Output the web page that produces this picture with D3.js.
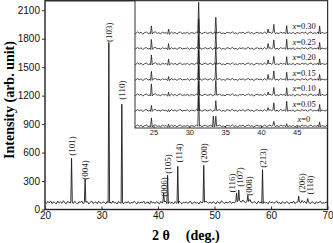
<!DOCTYPE html>
<html>
<head>
<meta charset="utf-8">
<script src="https://cdn.jsdelivr.net/npm/d3@7"></script>
<style>
  body { margin: 0; background: #fff; }
  svg { display: block; }
</style>
</head>
<body>
<div id="chart"></div>
<script>
// main pattern (x = 0), counts
const twoThetaTicks = [20, 30, 40, 50, 60, 70];
const intensityTicks = [0, 300, 600, 900, 1200, 1500, 1800, 2100];
const baselineStart = 20;
const baselineStep = 0.25;
const baselineCounts = [
  78, 64, 85, 70, 90, 62, 81, 73, 58, 88, 69, 80, 66, 92, 71, 60, 84, 75, 67, 79,
  63, 86, 72, 57, 82, 74, 90, 61, 77, 68, 83, 59, 76, 88, 65, 73, 80, 62, 87, 70,
  66, 81, 74, 60, 85, 71, 78, 64, 89, 69, 75, 58, 83, 72, 67, 91, 63, 79, 70, 84,
  61, 76, 68, 87, 73, 59, 82, 66, 78, 71, 86, 62, 74, 80, 57, 88, 69, 77, 64, 83,
  72, 60, 85, 68, 79, 90, 74, 63, 81, 67, 76, 58, 84, 70, 65, 89, 73, 61, 78, 69,
  82, 64, 75, 87, 60, 71, 80, 66, 73, 58, 85, 69, 77, 62, 88, 74, 67, 79, 63, 83,
  70, 59, 84, 72, 65, 90, 76, 61, 80, 68, 74, 86, 63, 78, 71, 57, 82, 95, 88, 76,
  100, 82, 72, 96, 85, 105, 78, 69, 84, 73, 61, 87, 70, 79, 64, 83, 68, 75, 59, 86,
  71, 80, 63, 77, 89, 66, 74, 58, 83, 70, 65, 85, 72, 61, 78, 69, 88, 62, 76, 92,
  80, 67, 96, 74, 85, 64, 79, 71, 62, 84, 73, 58, 81, 69, 76, 87, 63, 72, 66, 78,
  74
];
const peakPositions = [24.7, 27.1, 31.3, 33.6, 41.0, 41.7, 43.5, 48.1, 53.9, 54.3, 55.9, 58.5, 64.9, 66.5];
const peakHeights = [540, 320, 1760, 1110, 175, 360, 455, 465, 175, 205, 150, 420, 140, 115];
const peakLabels = ["(101)", "(004)", "(103)", "(110)", "(006)", "(105)", "(114)", "(200)", "(116)", "(107)", "(008)", "(213)", "(206)", "(118)"];
const labelPositions = [24.7, 27.1, 31.3, 33.6, 41.0, 41.7, 43.7, 48.1, 53.1, 54.5, 56.1, 58.6, 65.5, 66.9];
const labelLevels = [668, 416, 1868, 1258, 237, 479, 595, 595, 279, 342, 247, 542, 279, 258];

// inset: stacked patterns for each x
const insetTicks = [25, 30, 35, 40, 45];
const insetCompositions = ["0", "0.05", "0.10", "0.15", "0.20", "0.25", "0.30"];
const insetNoiseStart = 22.25;
const insetNoise = [
  0.4, -0.6, 1.1, -0.2, 0.7, -1.0, 0.3, 0.9, -0.5, 0.1, -0.9, 0.6, 1.2, -0.3, 0.2, -0.7, 0.8, -0.1, 0.5, -1.1,
  0.0, 0.9, -0.4, 0.6, -0.8, 0.3, 1.0, -0.6, 0.2, -0.2, 0.7, -0.9, 0.4, 0.1, -0.5, 1.1, -0.3, 0.6, -0.7, 0.2,
  0.8, -0.4, 0.0, 1.0, -1.0, 0.5, -0.2, 0.3, 0.9, -0.6, 0.1, -0.8, 0.7, 0.4, -0.3, 1.2, -0.5, 0.2, -0.9, 0.6,
  -0.1, 0.8, -0.7, 0.3, 1.0, -0.4, 0.5, -1.0, 0.2, 0.7, -0.2, 0.4, -0.8, 1.1, -0.5, 0.0, 0.9, -0.3, 0.6, -0.6,
  0.3, -0.9, 1.0, -0.1, 0.5, -0.7, 0.8, 0.2, -0.4, 0.6, -1.1, 0.4, 0.1, -0.5, 0.9, -0.2, 0.7, -0.8, 0.3, 1.0,
  -0.6, 0.2, -0.3, 0.8, -0.9, 0.5, 0.0, -0.4, 0.7, -0.2
];
const insetPeakPositions = [24.7, 27.1, 31.3, 33.35, 33.7, 41.0, 41.8, 43.6, 48.2];
const insetPeakHeights = [
  [9, 3, 30, 11, 10, 0, 4, 3, 5],
  [6, 2, 30, 0, 10, 3, 7, 10, 7],
  [12, 4, 30, 0, 15, 3, 7, 8, 7],
  [9, 4, 30, 0, 17, 5, 8, 8, 6],
  [10, 6, 30, 0, 17, 4, 7, 8, 6],
  [10, 6, 30, 0, 17, 5, 8, 10, 7],
  [8, 5, 31, 0, 16, 4, 8, 8, 8]
];
const insetOffsetStep = 15.5;

const width = 333, height = 243;
const plot = { left: 45, right: 327.5, top: 0.75, bottom: 209.5 };
const inset = { left: 135, right: 327.5, top: 0.75, bottom: 128 };
const serif = "'Liberation Serif', 'Times New Roman', serif";
const sans = "'Liberation Sans', Arial, sans-serif";

const svg = d3.select("#chart").append("svg")
  .attr("width", width)
  .attr("height", height);

const x = d3.scaleLinear().domain([20, 70]).range([plot.left, plot.right]);
const y = d3.scaleLinear().domain([0, 2200]).range([plot.bottom, plot.top]);

// build a profile: noisy baseline plus narrow triangular peaks
function buildProfile(start, step, base, positions, heights, halfWidth, offset) {
  const points = [];
  base.forEach((v, i) => {
    const t = start + i * step;
    const nearPeak = positions.some((p, j) => heights[j] > 0 && Math.abs(t - p) < halfWidth + 0.03);
    if (!nearPeak) points.push([t, v + offset]);
  });
  positions.forEach((p, j) => {
    if (heights[j] <= 0) return;
    const idx = Math.max(0, Math.min(base.length - 1, Math.round((p - start) / step)));
    const b = base[idx] + offset;
    points.push([p - halfWidth, b]);
    points.push([p, (offset === 0 && heights[j] > 60 ? heights[j] : b + heights[j])]);
    points.push([p + halfWidth, b]);
  });
  return points.sort((a, b) => a[0] - b[0]);
}

const mainProfile = buildProfile(baselineStart, baselineStep, baselineCounts, peakPositions, peakHeights, 0.13, 0);

svg.append("path")
  .datum(mainProfile)
  .attr("fill", "none")
  .attr("stroke", "#1a1a1a")
  .attr("stroke-width", 0.9)
  .attr("d", d3.line().x(d => x(d[0])).y(d => y(d[1])));

// hkl labels
svg.append("g")
  .selectAll("text")
  .data(peakLabels)
  .enter()
  .append("text")
  .attr("transform", (d, i) => `translate(${x(labelPositions[i])},${y(labelLevels[i])}) rotate(-90)`)
  .attr("text-anchor", "middle")
  .attr("dy", "0.35em")
  .style("font-family", serif)
  .style("font-size", "9px")
  .style("fill", "#222")
  .text(d => d);

// axes
const yAxis = svg.append("g")
  .attr("transform", `translate(${plot.left},0)`)
  .call(d3.axisLeft(y).tickValues(intensityTicks).tickFormat(d3.format("d")).tickSize(3).tickPadding(2));
const xAxis = svg.append("g")
  .attr("transform", `translate(0,${plot.bottom})`)
  .call(d3.axisBottom(x).tickValues(twoThetaTicks).tickFormat(d3.format("d")).tickSize(-3).tickPadding(2));
[yAxis, xAxis].forEach(g => {
  g.select(".domain").remove();
  g.selectAll("text").style("font-family", sans).style("font-size", "10px").style("fill", "#111");
  g.selectAll("line").attr("stroke", "#333");
});

// main frame
svg.append("rect")
  .attr("x", plot.left)
  .attr("y", plot.top)
  .attr("width", plot.right - plot.left)
  .attr("height", plot.bottom - plot.top)
  .attr("fill", "none")
  .attr("stroke", "#222")
  .attr("stroke-width", 1.4);

// inset
const ix = d3.scaleLinear().domain([22.41, 49.3]).range([inset.left, inset.right]);
const iy = d3.scaleLinear().domain([0, 127.25]).range([inset.bottom, inset.top]);

svg.append("rect")
  .attr("x", inset.left)
  .attr("y", inset.top)
  .attr("width", inset.right - inset.left)
  .attr("height", inset.bottom - inset.top)
  .attr("fill", "#fff")
  .attr("stroke", "#333")
  .attr("stroke-width", 1);

svg.append("clipPath").attr("id", "insetClip")
  .append("rect")
  .attr("x", inset.left)
  .attr("y", inset.top)
  .attr("width", inset.right - inset.left)
  .attr("height", inset.bottom - inset.top);

const insetLine = d3.line().x(d => ix(d[0])).y(d => iy(d[1]));
const traces = svg.append("g").attr("clip-path", "url(#insetClip)");

insetCompositions.forEach((c, i) => {
  const offset = 2 + i * insetOffsetStep;
  const profile = buildProfile(insetNoiseStart, baselineStep, insetNoise, insetPeakPositions, insetPeakHeights[i], 0.12, offset);
  traces.append("path")
    .datum(profile)
    .attr("fill", "none")
    .attr("stroke", "#111")
    .attr("stroke-width", 0.75)
    .attr("d", insetLine);

  const label = svg.append("text")
    .attr("x", ix(c === "0" ? 45.1 : 44.4))
    .attr("y", iy(offset) - 4)
    .style("font-family", serif)
    .style("font-size", "8.5px")
    .style("fill", "#111");
  label.append("tspan").style("font-style", "italic").text("x");
  label.append("tspan").text("=" + c);
});

const insetAxis = svg.append("g")
  .attr("transform", `translate(0,${inset.bottom})`)
  .call(d3.axisBottom(ix).tickValues(insetTicks).tickSize(-2).tickPadding(2));
insetAxis.select(".domain").remove();
insetAxis.selectAll("text").style("font-family", sans).style("font-size", "7.5px").style("fill", "#222");
insetAxis.selectAll("line").attr("stroke", "#333");

// axis titles
svg.append("text")
  .attr("transform", "translate(14,100) rotate(-90)")
  .attr("text-anchor", "middle")
  .style("font-family", serif)
  .style("font-weight", "bold")
  .style("font-size", "14px")
  .text("Intensity (arb. unit)");

const xTitle = svg.append("text")
  .attr("x", 152)
  .attr("y", 240)
  .style("font-family", serif)
  .style("font-weight", "bold")
  .style("font-size", "14px");
xTitle.append("tspan").text("2 θ");
xTitle.append("tspan").attr("dx", 16).text("(deg.)");
</script>
</body>
</html>
